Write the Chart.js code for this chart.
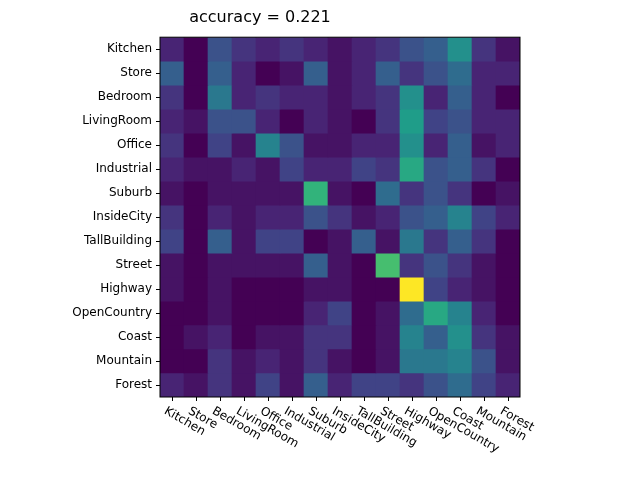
<!DOCTYPE html>
<html>
<head>
<meta charset="utf-8">
<script src="https://cdn.jsdelivr.net/npm/chart.js@4"></script>
<style>
	html, body { margin: 0; padding: 0; background: #fff; }
	#wrap { width: 640px; height: 480px; }
</style>
</head>
<body>
<div id="wrap"><canvas id="cm"></canvas></div>
<script>
	// confusion matrix data (rows = true class, cols = predicted)
	const CATEGORIES = ['Kitchen', 'Store', 'Bedroom', 'LivingRoom', 'Office', 'Industrial', 'Suburb',
		'InsideCity', 'TallBuilding', 'Street', 'Highway', 'OpenCountry', 'Coast', 'Mountain', 'Forest'];
	const TITLE = 'accuracy = 0.221';
	const MATRIX = [
		[2,0,5,3,2,3,2,1,2,3,5,6,10,3,1],
		[6,0,6,2,0,1,6,1,2,6,3,5,7,2,2],
		[3,0,8,2,3,2,2,1,2,3,10,2,6,2,0],
		[2,1,5,5,2,0,2,1,0,3,11,4,5,2,2],
		[3,0,4,1,9,5,1,1,2,2,10,2,6,1,2],
		[2,1,1,2,1,4,2,2,4,3,12,5,6,3,0],
		[1,0,1,1,1,1,13,1,0,7,3,5,3,0,1],
		[3,0,2,1,2,2,5,3,1,2,5,6,9,4,2],
		[4,0,6,1,4,4,0,1,6,1,8,3,6,3,0],
		[1,0,1,1,1,1,6,1,0,14,3,5,3,1,0],
		[1,0,1,0,0,0,1,1,0,0,20,4,2,1,0],
		[0,0,1,0,0,0,2,4,0,1,7,12,9,2,0],
		[0,1,2,0,1,1,3,3,0,1,9,6,10,3,1],
		[0,0,3,1,2,1,3,1,0,1,8,8,9,5,1],
		[2,1,3,1,4,1,6,2,4,4,3,5,7,4,2]
	];

	const VIRIDIS = [[68,1,84],[72,40,120],[62,74,137],[49,104,142],[38,130,142],[31,158,137],[53,183,121],[110,206,88],[181,222,43],[253,231,37]];
	function viridis(t) {
		t = Math.max(0, Math.min(1, t)) * (VIRIDIS.length - 1);
		const i = Math.min(Math.floor(t), VIRIDIS.length - 2), f = t - i;
		const a = VIRIDIS[i], b = VIRIDIS[i + 1];
		return `rgb(${a.map((v, k) => Math.round(v + (b[k] - v) * f)).join(',')})`;
	}

	const maxVal = Math.max(...MATRIX.flat());
	// one floating-bar dataset per row, bars not grouped so they fill their cells
	const datasets = MATRIX.map((row, r) => ({
		data: row.map(() => [r - 0.5, r + 0.5]),
		backgroundColor: row.map(v => viridis(v / maxVal)),
		borderWidth: 0,
		grouped: false,
		barPercentage: 1,
		categoryPercentage: 1
	}));

	const framePlugin = {
		id: 'frame',
		afterDraw(chart) {
			const { ctx, chartArea: a, scales } = chart;
			ctx.save();
			ctx.strokeStyle = '#000';
			ctx.lineWidth = 1;
			ctx.strokeRect(a.left, a.top, a.right - a.left, a.bottom - a.top);
			// rotated x labels, reading down to the right
			ctx.font = '12px "DejaVu Sans"';
			ctx.fillStyle = '#000';
			ctx.textAlign = 'left';
			ctx.textBaseline = 'top';
			CATEGORIES.forEach((c, i) => {
				const x = scales.x.getPixelForValue(i);
				ctx.save();
				ctx.translate(x - 4, a.bottom + 8);
				ctx.rotate(Math.PI / 6);
				ctx.fillText(c, 0, 0);
				ctx.restore();
			});
			ctx.restore();
		}
	};

	new Chart(document.getElementById('cm'), {
		type: 'bar',
		data: { labels: CATEGORIES, datasets: datasets },
		plugins: [framePlugin],
		options: {
			responsive: true,
			maintainAspectRatio: false,
			animation: false,
			layout: { padding: { left: 0, right: 120, top: 0, bottom: 0 } },
			plugins: {
				legend: { display: false },
				tooltip: { enabled: false },
				title: {
					display: true,
					text: TITLE,
					color: '#000',
					font: { family: 'DejaVu Sans', size: 16, weight: 'normal' },
					padding: { top: 8, bottom: 10 }
				}
			},
			scales: {
				x: {
					offset: true,
					grid: { display: true, drawOnChartArea: false, tickLength: 4, color: '#000', offset: false },
					border: { display: false },
					ticks: { display: true, callback: () => '', padding: 0 },
					afterFit(s) { s.height = 83; }
				},
				y: {
					type: 'linear',
					min: -0.5,
					max: 14.5,
					reverse: true,
					afterBuildTicks(s) { s.ticks = CATEGORIES.map((c, i) => ({ value: i })); },
					grid: { display: true, drawOnChartArea: false, tickLength: 4, color: '#000' },
					border: { display: false },
					ticks: {
						color: '#000',
						font: { family: 'DejaVu Sans', size: 12 },
						padding: 4,
						callback: v => CATEGORIES[v]
					},
					afterFit(s) { s.width = 160; }
				}
			}
		}
	});
</script>
</body>
</html>
